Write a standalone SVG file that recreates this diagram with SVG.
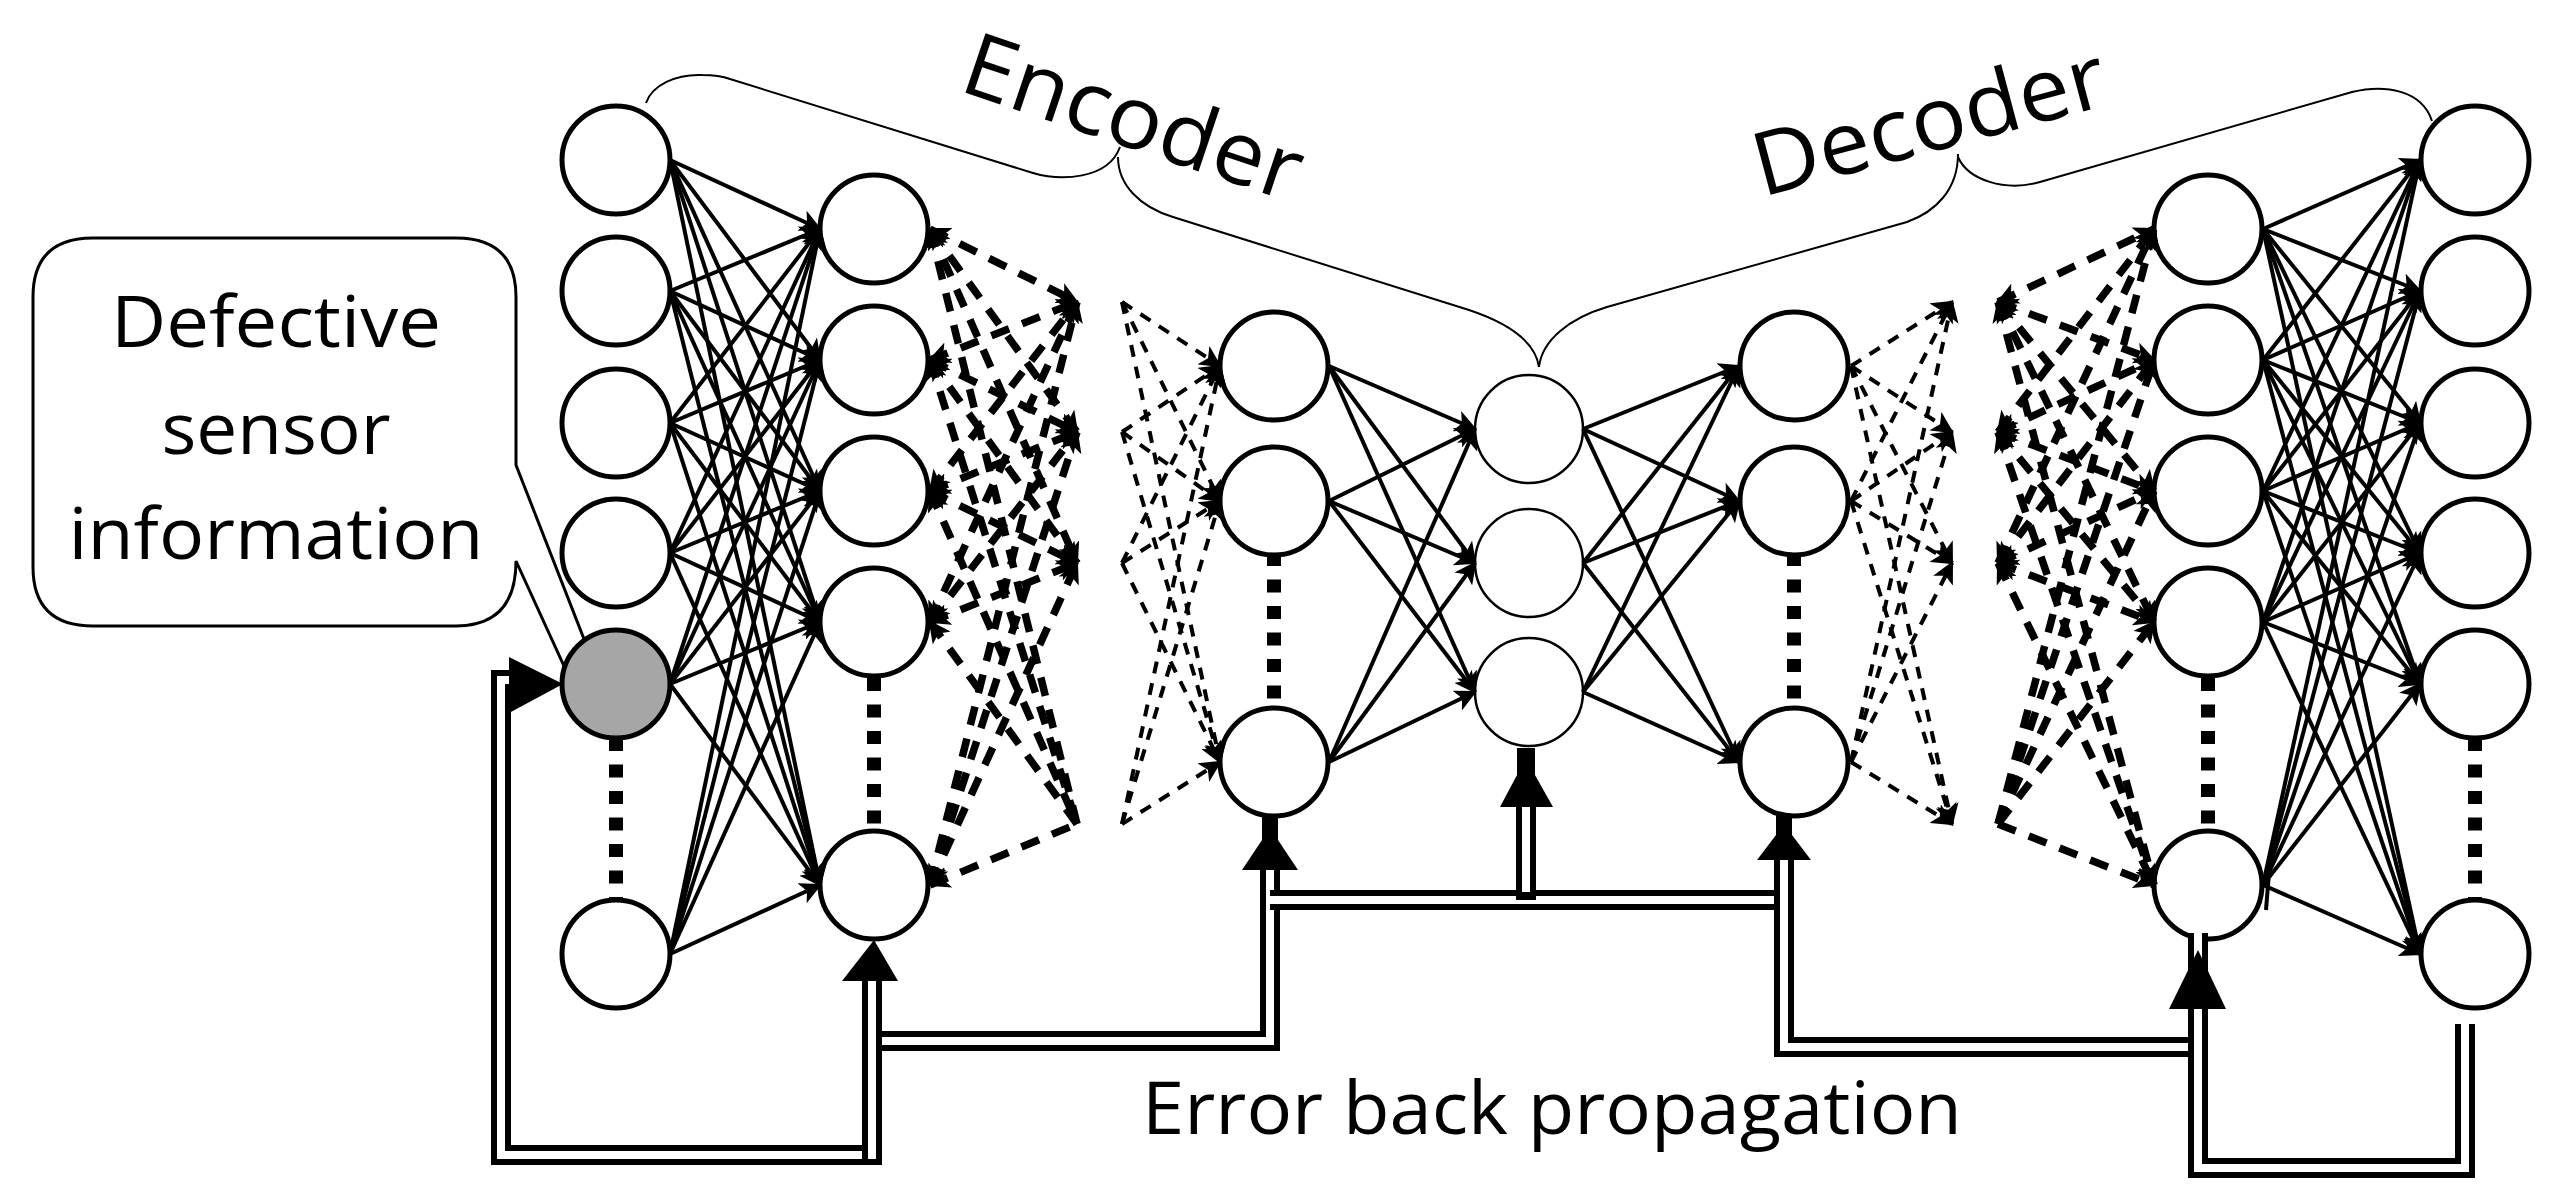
<svg xmlns="http://www.w3.org/2000/svg" width="2559" height="1201" viewBox="0 0 2559 1201">
<style>
text{font-family:"Open Sans","Noto Sans","Liberation Sans",sans-serif;fill:#000}
.m{text-anchor:middle}
.n{fill:#fff;stroke:#000;stroke-width:5}
.t{stroke-width:2.5}
.s line{stroke:#000;stroke-width:4;marker-end:url(#a)}
.d line{stroke:#000;stroke-width:7.5;stroke-dasharray:19 14}
.ds line{marker-start:url(#a)}
.de line{marker-end:url(#a)}
.f line{stroke:#000;stroke-width:4;stroke-dasharray:12 10;marker-end:url(#a)}
.v line{stroke:#000;stroke-width:14;stroke-dasharray:13 13.5}
.b{fill:none;stroke:#000;stroke-width:2}
.po{fill:none;stroke:#000;stroke-width:20}
.pi{fill:none;stroke:#fff;stroke-width:8}
</style>
<defs>
<marker id="a" viewBox="0 0 10 10" refX="9" refY="5" markerUnits="userSpaceOnUse" markerWidth="22" markerHeight="22" orient="auto-start-reverse"><path d="M0 0L10 5L0 10L2.5 5Z"/></marker>
</defs>
<g id="callout">
<path d="M516 465V297Q516 238 456 238H93Q33 238 33 297V567Q33 626 93 626H456Q516 626 516 561L575 690L600 680Z" fill="#fff" stroke="#000" stroke-width="3"/>
<text class="m" x="276" y="347" font-size="72" textLength="330" lengthAdjust="spacingAndGlyphs">Defective</text>
<text class="m" x="276" y="454" font-size="72" textLength="229" lengthAdjust="spacingAndGlyphs">sensor</text>
<text class="m" x="276" y="559" font-size="72" textLength="415" lengthAdjust="spacingAndGlyphs">information</text>
</g>
<g id="A1"><circle class="n" cx="616" cy="160" r="54"/></g>
<g id="A2"><circle class="n" cx="616" cy="291" r="54"/></g>
<g id="A3"><circle class="n" cx="616" cy="423" r="54"/></g>
<g id="A4"><circle class="n" cx="616" cy="553" r="54"/></g>
<g id="A5"><circle class="n" cx="616" cy="684" r="54" style="fill:#a6a6a6"/></g>
<g id="A6"><circle class="n" cx="616" cy="954" r="54"/></g>
<g id="B1"><circle class="n" cx="874" cy="229" r="54"/></g>
<g id="B2"><circle class="n" cx="874" cy="360" r="54"/></g>
<g id="B3"><circle class="n" cx="874" cy="491" r="54"/></g>
<g id="B4"><circle class="n" cx="874" cy="622" r="54"/></g>
<g id="B5"><circle class="n" cx="874" cy="885" r="54"/></g>
<g id="C1"><circle class="n" cx="1274" cy="366" r="54"/></g>
<g id="C2"><circle class="n" cx="1274" cy="501" r="54"/></g>
<g id="C3"><circle class="n" cx="1274" cy="762" r="54"/></g>
<g id="D1"><circle class="n t" cx="1529" cy="429" r="54"/></g>
<g id="D2"><circle class="n t" cx="1529" cy="563" r="54"/></g>
<g id="D3"><circle class="n t" cx="1529" cy="692" r="54"/></g>
<g id="E1"><circle class="n" cx="1794" cy="366" r="54"/></g>
<g id="E2"><circle class="n" cx="1794" cy="501" r="54"/></g>
<g id="E3"><circle class="n" cx="1794" cy="762" r="54"/></g>
<g id="F1"><circle class="n" cx="2208" cy="229" r="54"/></g>
<g id="F2"><circle class="n" cx="2208" cy="360" r="54"/></g>
<g id="F3"><circle class="n" cx="2208" cy="491" r="54"/></g>
<g id="F4"><circle class="n" cx="2208" cy="622" r="54"/></g>
<g id="F5"><circle class="n" cx="2208" cy="885" r="54"/></g>
<g id="G1"><circle class="n" cx="2475" cy="160" r="54"/></g>
<g id="G2"><circle class="n" cx="2475" cy="291" r="54"/></g>
<g id="G3"><circle class="n" cx="2475" cy="423" r="54"/></g>
<g id="G4"><circle class="n" cx="2475" cy="553" r="54"/></g>
<g id="G5"><circle class="n" cx="2475" cy="684" r="54"/></g>
<g id="G6"><circle class="n" cx="2475" cy="954" r="54"/></g>
<g id="connectors">
<g class="s">
<line x1="670" y1="160" x2="820" y2="229"/><line x1="670" y1="160" x2="820" y2="360"/><line x1="670" y1="160" x2="820" y2="491"/><line x1="670" y1="160" x2="820" y2="622"/><line x1="670" y1="160" x2="820" y2="885"/>
<line x1="670" y1="291" x2="820" y2="229"/><line x1="670" y1="291" x2="820" y2="360"/><line x1="670" y1="291" x2="820" y2="491"/><line x1="670" y1="291" x2="820" y2="622"/><line x1="670" y1="291" x2="820" y2="885"/>
<line x1="670" y1="423" x2="820" y2="229"/><line x1="670" y1="423" x2="820" y2="360"/><line x1="670" y1="423" x2="820" y2="491"/><line x1="670" y1="423" x2="820" y2="622"/><line x1="670" y1="423" x2="820" y2="885"/>
<line x1="670" y1="553" x2="820" y2="229"/><line x1="670" y1="553" x2="820" y2="360"/><line x1="670" y1="553" x2="820" y2="491"/><line x1="670" y1="553" x2="820" y2="622"/><line x1="670" y1="553" x2="820" y2="885"/>
<line x1="670" y1="684" x2="820" y2="229"/><line x1="670" y1="684" x2="820" y2="360"/><line x1="670" y1="684" x2="820" y2="491"/><line x1="670" y1="684" x2="820" y2="622"/><line x1="670" y1="684" x2="820" y2="885"/>
<line x1="670" y1="954" x2="820" y2="229"/><line x1="670" y1="954" x2="820" y2="360"/><line x1="670" y1="954" x2="820" y2="491"/><line x1="670" y1="954" x2="820" y2="622"/><line x1="670" y1="954" x2="820" y2="885"/>
<line x1="2263" y1="229" x2="2420" y2="160"/><line x1="2263" y1="229" x2="2420" y2="291"/><line x1="2263" y1="229" x2="2420" y2="423"/><line x1="2263" y1="229" x2="2420" y2="553"/><line x1="2263" y1="229" x2="2420" y2="684"/><line x1="2263" y1="229" x2="2420" y2="954"/>
<line x1="2263" y1="360" x2="2420" y2="160"/><line x1="2263" y1="360" x2="2420" y2="291"/><line x1="2263" y1="360" x2="2420" y2="423"/><line x1="2263" y1="360" x2="2420" y2="553"/><line x1="2263" y1="360" x2="2420" y2="684"/><line x1="2263" y1="360" x2="2420" y2="954"/>
<line x1="2263" y1="491" x2="2420" y2="160"/><line x1="2263" y1="491" x2="2420" y2="291"/><line x1="2263" y1="491" x2="2420" y2="423"/><line x1="2263" y1="491" x2="2420" y2="553"/><line x1="2263" y1="491" x2="2420" y2="684"/><line x1="2263" y1="491" x2="2420" y2="954"/>
<line x1="2263" y1="622" x2="2420" y2="160"/><line x1="2263" y1="622" x2="2420" y2="291"/><line x1="2263" y1="622" x2="2420" y2="423"/><line x1="2263" y1="622" x2="2420" y2="553"/><line x1="2263" y1="622" x2="2420" y2="684"/><line x1="2263" y1="622" x2="2420" y2="954"/>
<line x1="2263" y1="885" x2="2420" y2="160"/><line x1="2263" y1="885" x2="2420" y2="291"/><line x1="2263" y1="885" x2="2420" y2="423"/><line x1="2263" y1="885" x2="2420" y2="553"/><line x1="2263" y1="885" x2="2420" y2="684"/><line x1="2263" y1="885" x2="2420" y2="954"/>
<line x1="1329" y1="366" x2="1475" y2="429"/><line x1="1329" y1="366" x2="1475" y2="563"/><line x1="1329" y1="366" x2="1475" y2="692"/>
<line x1="1329" y1="501" x2="1475" y2="429"/><line x1="1329" y1="501" x2="1475" y2="563"/><line x1="1329" y1="501" x2="1475" y2="692"/>
<line x1="1329" y1="762" x2="1475" y2="429"/><line x1="1329" y1="762" x2="1475" y2="563"/><line x1="1329" y1="762" x2="1475" y2="692"/>
<line x1="1583" y1="429" x2="1739" y2="366"/><line x1="1583" y1="429" x2="1739" y2="501"/><line x1="1583" y1="429" x2="1739" y2="762"/>
<line x1="1583" y1="563" x2="1739" y2="366"/><line x1="1583" y1="563" x2="1739" y2="501"/><line x1="1583" y1="563" x2="1739" y2="762"/>
<line x1="1583" y1="692" x2="1739" y2="366"/><line x1="1583" y1="692" x2="1739" y2="501"/><line x1="1583" y1="692" x2="1739" y2="762"/>
<line x1="2270" y1="860" x2="2266" y2="910" style="marker-end:none"/>
</g>
<g class="d ds de">
<line x1="930" y1="229" x2="1077" y2="302"/><line x1="930" y1="229" x2="1077" y2="432"/><line x1="930" y1="229" x2="1077" y2="563"/>
<line x1="930" y1="360" x2="1077" y2="302"/><line x1="930" y1="360" x2="1077" y2="432"/><line x1="930" y1="360" x2="1077" y2="563"/>
<line x1="930" y1="491" x2="1077" y2="302"/><line x1="930" y1="491" x2="1077" y2="432"/><line x1="930" y1="491" x2="1077" y2="563"/>
<line x1="930" y1="622" x2="1077" y2="302"/><line x1="930" y1="622" x2="1077" y2="432"/><line x1="930" y1="622" x2="1077" y2="563"/>
<line x1="930" y1="885" x2="1077" y2="302"/><line x1="930" y1="885" x2="1077" y2="432"/><line x1="930" y1="885" x2="1077" y2="563"/>
<line x1="1998" y1="302" x2="2154" y2="229"/><line x1="1998" y1="302" x2="2154" y2="360"/><line x1="1998" y1="302" x2="2154" y2="491"/><line x1="1998" y1="302" x2="2154" y2="622"/><line x1="1998" y1="302" x2="2154" y2="885"/>
<line x1="1998" y1="432" x2="2154" y2="229"/><line x1="1998" y1="432" x2="2154" y2="360"/><line x1="1998" y1="432" x2="2154" y2="491"/><line x1="1998" y1="432" x2="2154" y2="622"/><line x1="1998" y1="432" x2="2154" y2="885"/>
<line x1="1998" y1="563" x2="2154" y2="229"/><line x1="1998" y1="563" x2="2154" y2="360"/><line x1="1998" y1="563" x2="2154" y2="491"/><line x1="1998" y1="563" x2="2154" y2="622"/><line x1="1998" y1="563" x2="2154" y2="885"/>
</g>
<g class="d ds">
<line x1="930" y1="229" x2="1077" y2="824"/><line x1="930" y1="360" x2="1077" y2="824"/><line x1="930" y1="491" x2="1077" y2="824"/><line x1="930" y1="622" x2="1077" y2="824"/><line x1="930" y1="885" x2="1077" y2="824"/>
</g>
<g class="d de">
<line x1="1998" y1="824" x2="2154" y2="229"/><line x1="1998" y1="824" x2="2154" y2="360"/><line x1="1998" y1="824" x2="2154" y2="491"/><line x1="1998" y1="824" x2="2154" y2="622"/><line x1="1998" y1="824" x2="2154" y2="885"/>
</g>
<g class="f">
<line x1="1122" y1="302" x2="1220" y2="366"/><line x1="1122" y1="302" x2="1220" y2="501"/><line x1="1122" y1="302" x2="1220" y2="762"/>
<line x1="1122" y1="432" x2="1220" y2="366"/><line x1="1122" y1="432" x2="1220" y2="501"/><line x1="1122" y1="432" x2="1220" y2="762"/>
<line x1="1122" y1="563" x2="1220" y2="366"/><line x1="1122" y1="563" x2="1220" y2="501"/><line x1="1122" y1="563" x2="1220" y2="762"/>
<line x1="1122" y1="824" x2="1220" y2="366"/><line x1="1122" y1="824" x2="1220" y2="501"/><line x1="1122" y1="824" x2="1220" y2="762"/>
<line x1="1851" y1="366" x2="1952" y2="302"/><line x1="1851" y1="366" x2="1952" y2="432"/><line x1="1851" y1="366" x2="1952" y2="563"/><line x1="1851" y1="366" x2="1952" y2="824"/>
<line x1="1851" y1="501" x2="1952" y2="302"/><line x1="1851" y1="501" x2="1952" y2="432"/><line x1="1851" y1="501" x2="1952" y2="563"/><line x1="1851" y1="501" x2="1952" y2="824"/>
<line x1="1851" y1="762" x2="1952" y2="302"/><line x1="1851" y1="762" x2="1952" y2="432"/><line x1="1851" y1="762" x2="1952" y2="563"/><line x1="1851" y1="762" x2="1952" y2="824"/>
</g>
<g class="v">
<line x1="616" y1="738" x2="616" y2="900"/>
<line x1="874" y1="678" x2="874" y2="828"/>
<line x1="1274" y1="553" x2="1274" y2="706"/>
<line x1="1794" y1="553" x2="1794" y2="706"/>
<line x1="2208" y1="678" x2="2208" y2="828"/>
<line x1="2475" y1="738" x2="2475" y2="900"/>
</g>
<g id="pipes">
<path class="po" d="M512 680H501V1155H872"/><path class="pi" d="M512 680H501V1155H872"/>
<path class="po" d="M872 1041H1270V860"/><path class="pi" d="M872 1041H1270V860"/>
<path class="po" d="M872 1165V975"/><path class="pi" d="M872 1159V975"/>
<path class="po" d="M1270 900H1784"/><path class="pi" d="M1270 900H1784"/>
<path class="po" d="M1526 900V800"/><path class="pi" d="M1526 892V800"/>
<path class="po" d="M1784 850V1047H2198"/><path class="pi" d="M1784 850V1047H2198"/>
<path class="po" d="M2198 933V1168H2465V1024"/><path class="pi" d="M2198 933V1168H2465V1024"/>
<path d="M563 684L509 657V713Z"/>
<path d="M874 940L842 981H898Z"/>
<path d="M1262 815H1278V840L1298 870H1242L1262 840Z"/>
<path d="M1517 748H1535V775L1553 807H1500L1517 775Z"/>
<path d="M1776 815H1792V835L1811 860H1757L1776 835Z"/>
<path d="M2198 950L2169 1009H2226Z"/>
</g>
<g id="braces">
<path class="b" d="M646 103C652 85 676 74 702 75C712 75 722 76 730 79L1033 173C1060 181 1108 180 1120 147"/>
<path class="b" d="M1118 157C1118 185 1140 207 1173 217L1469 310C1505 322 1535 340 1539 367"/>
<path class="b" d="M1539 367C1542 340 1570 318 1607 307L1907 222C1935 212 1958 190 1958 154"/>
<path class="b" d="M1958 157C1968 180 2005 192 2040 182L2352 92C2385 84 2422 90 2432 121"/>
</g>
</g>
<g id="labels">
<text transform="translate(957 90) rotate(18.6)" font-size="88" textLength="352" lengthAdjust="spacingAndGlyphs">Encoder</text>
<text transform="translate(1762 197) rotate(-14.9)" font-size="88" textLength="362" lengthAdjust="spacingAndGlyphs">Decoder</text>
<text class="m" x="1552" y="1134" font-size="74" textLength="820" lengthAdjust="spacingAndGlyphs">Error back propagation</text>
</g>
</svg>
